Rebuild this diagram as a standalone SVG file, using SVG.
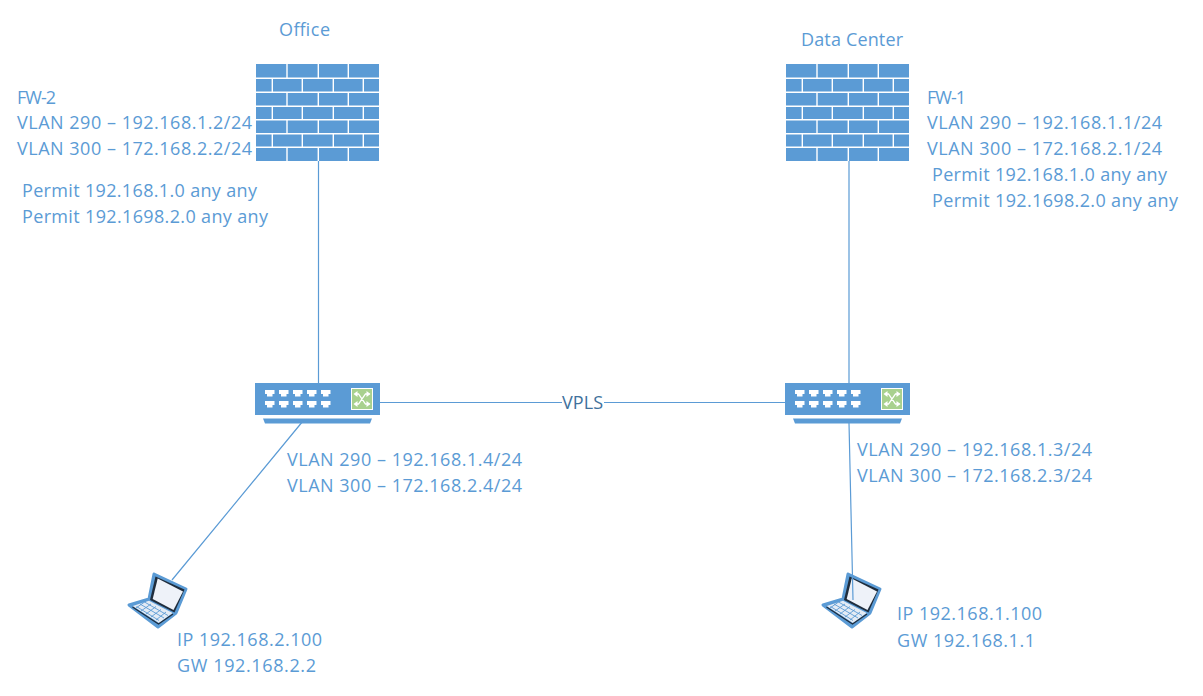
<svg xmlns="http://www.w3.org/2000/svg" xmlns:xlink="http://www.w3.org/1999/xlink" width="1203" height="696" viewBox="0 0 1203 696">
<style>
text{font-family:"Open Sans","Noto Sans","Liberation Sans",sans-serif;font-size:18px;fill:#5b9bd5}
.c{stroke:#5b9bd5;stroke-width:1.2;fill:none}
.m{stroke:#fff;stroke-width:1.4;fill:none}
.p{fill:#fff}
</style>
<defs>
<g id="wall">
<rect x="0" y="0" width="123" height="97" fill="#5b9bd5"/>
<path class="m" d="M0 14.300H123M0 28.300H123M0 42.300H123M0 55.700H123M0 69.700H123M0 83.300H123"/>
<path class="m" d="M31 0V14.300M62.300 0V14.300M92.300 0V14.300M16.300 14.300V28.300M46.300 14.300V28.300M77.300 14.300V28.300M107.300 14.300V28.300M31 28.300V42.300M62.300 28.300V42.300M92.300 28.300V42.300M16.300 42.300V55.700M46.300 42.300V55.700M77.300 42.300V55.700M107.300 42.300V55.700M31 55.700V69.700M62.300 55.700V69.700M92.300 55.700V69.700M16.300 69.700V83.300M46.300 69.700V83.300M77.300 69.700V83.300M107.300 69.700V83.300M31 83.300V97M62.300 83.300V97M92.300 83.300V97"/>
</g>
<path id="port" class="p" d="M0 0H9.500V4H7.500V6.500H2V4H0Z"/>
<g id="switch">
<rect x="0" y="0" width="125" height="32" fill="#5b9bd5"/>
<use xlink:href="#port" x="10" y="7"/><use xlink:href="#port" x="24" y="7"/><use xlink:href="#port" x="38" y="7"/><use xlink:href="#port" x="52" y="7"/><use xlink:href="#port" x="66" y="7"/>
<use xlink:href="#port" x="10" y="18"/><use xlink:href="#port" x="24" y="18"/><use xlink:href="#port" x="38" y="18"/><use xlink:href="#port" x="52" y="18"/><use xlink:href="#port" x="66" y="18"/>
<rect x="96.500" y="5.500" width="21" height="21" fill="#a9d18e" stroke="#fff" stroke-width="1"/>
<path d="M100 11H103.500L110.500 21H114.500M100 21H103.500L110.500 11H114.500" stroke="#fff" stroke-width="1.300" fill="none"/>
<path d="M111.500 8L115.500 11L111.500 14ZM111.500 18L115.500 21L111.500 24ZM102.500 8L98.500 11L102.500 14ZM102.500 18L98.500 21L102.500 24Z" fill="#fff"/>
<path d="M8 35.500H117L115 40.500H10Z" fill="#5b9bd5"/>
</g>
<g id="laptop">
<path d="M24 0L56 15L46 39L28 53L-1 31L19 25Z" fill="#5b9bd5" stroke="#5b9bd5" stroke-width="3" stroke-linejoin="round"/>
<path d="M25.500 2.500L54.500 15.500L44.500 38.500L20 26Z" fill="#1f2d3d"/>
<path d="M27.700 4.500L53 17.500L43.500 36L22.700 25Z" fill="#eef2f9"/>
<path d="M19 26.700L42.700 39L29 49L2.700 32Z" fill="#e4ebf4"/>
<path d="M2.500 33L28.500 50L43 40" stroke="#1f2d3d" stroke-width="1.200" fill="none"/>
<path d="M10 30L34 44M14.500 28L38 41.500M6.500 32.500L29 46.500M16 27L6 34M21 30L11 37M26 32.500L16 40M31 35.500L21 43M36 38L26 46" stroke="#5b9bd5" stroke-width="0.900" fill="none"/>
</g>
</defs>

<g id="fw-2"><use xlink:href="#wall" x="256" y="64"/></g>
<g id="fw-1"><use xlink:href="#wall" x="786" y="64"/></g>
<g id="switch-office"><use xlink:href="#switch" x="255" y="383"/></g>
<g id="switch-dc"><use xlink:href="#switch" x="785" y="383"/></g>
<g id="laptop-office"><use xlink:href="#laptop" x="130" y="574"/></g>
<g id="laptop-dc"><use xlink:href="#laptop" x="824" y="574"/></g>

<g id="connectors">
<path class="c" d="M318.500 161V383M849 161V383M380 402.500H562M604 402.500H785M303 421L172 580M849 423L853 600"/>
</g>

<g id="labels">
<text x="279" y="35.500" textLength="51">Office</text>
<text x="801" y="45.500" textLength="102">Data Center</text>
<text x="17" y="104" textLength="39">FW-2</text>
<text x="17" y="129" textLength="235">VLAN 290 – 192.168.1.2/24</text>
<text x="17" y="154.500" textLength="235">VLAN 300 – 172.168.2.2/24</text>
<text x="22" y="196.500" textLength="235">Permit 192.168.1.0 any any</text>
<text x="22" y="222.500" textLength="246">Permit 192.1698.2.0 any any</text>
<text x="927" y="104" textLength="39">FW-1</text>
<text x="927" y="129" textLength="235">VLAN 290 – 192.168.1.1/24</text>
<text x="927" y="154.500" textLength="235">VLAN 300 – 172.168.2.1/24</text>
<text x="932" y="180.500" textLength="235">Permit 192.168.1.0 any any</text>
<text x="932" y="206.500" textLength="246">Permit 192.1698.2.0 any any</text>
<text x="562" y="408.500" textLength="41" style="fill:#41719c">VPLS</text>
<text x="287" y="466" textLength="235">VLAN 290 – 192.168.1.4/24</text>
<text x="287" y="492" textLength="235">VLAN 300 – 172.168.2.4/24</text>
<text x="857" y="456" textLength="235">VLAN 290 – 192.168.1.3/24</text>
<text x="857" y="482" textLength="235">VLAN 300 – 172.168.2.3/24</text>
<text x="177" y="646" textLength="145">IP 192.168.2.100</text>
<text x="177" y="672" textLength="139">GW 192.168.2.2</text>
<text x="897" y="620" textLength="145">IP 192.168.1.100</text>
<text x="897" y="647" textLength="138">GW 192.168.1.1</text>
</g>
</svg>
